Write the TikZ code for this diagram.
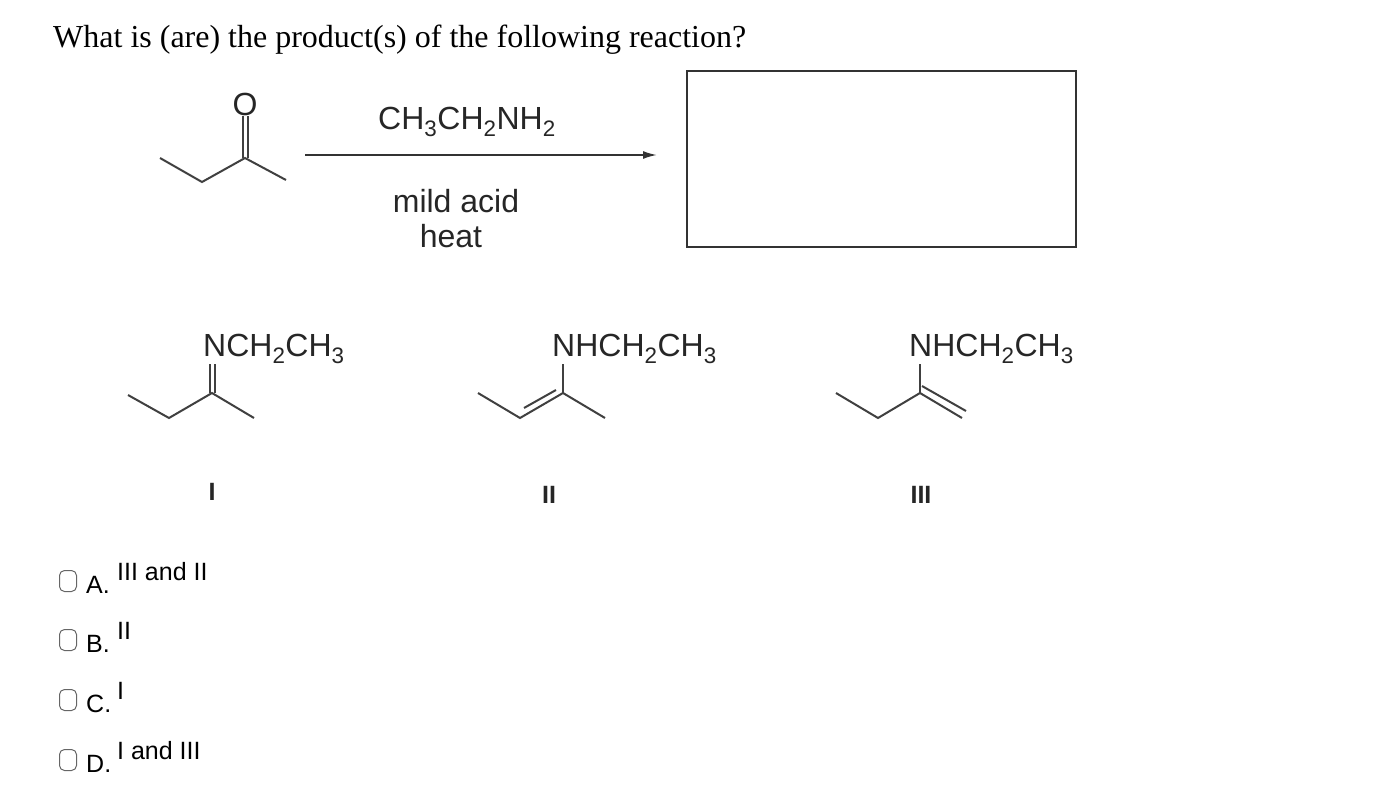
\documentclass[tikz,border=0pt]{standalone}
\usepackage{fontspec}
\usetikzlibrary{arrows.meta}
\setmainfont{Liberation Sans}
\newfontfamily\serifr{Liberation Serif}
\newcommand{\sbs}[1]{\textsubscript{#1}}
\begin{document}
\begin{tikzpicture}[x=1pt,y=-1pt,
  bond/.style={line width=2pt,black!75},
  lbl/.style={font=\fontsize{32}{34}\selectfont,inner sep=0pt,text=black!85},
  rom/.style={font=\bfseries\fontsize{25}{28}\selectfont,inner sep=0pt,text=black!85},
  opt/.style={font=\fontsize{25}{28}\selectfont,inner sep=0pt,anchor=west},
  cb/.style={draw=black!60,line width=1pt,rounded corners=5pt,minimum width=17pt,minimum height=21pt,inner sep=0pt}]
\useasboundingbox (0,0) rectangle (1374,800);
\node[font=\serifr\fontsize{32}{34}\selectfont,anchor=west,inner sep=0pt] (title) at (53,40) {What is (are) the product(s) of the following reaction?};
% ketone
\coordinate (k1) at (160,158); \coordinate (k2) at (202,182); \coordinate (k3) at (245,158); \coordinate (k4) at (286,180);
\node[lbl] (O) at (245,104) {O};
\draw[bond] (k1)--(k2)--(k3)--(k4);
\draw[bond] ([xshift=-2.5pt]k3)--([xshift=-2.5pt]O.south);
\draw[bond] ([xshift=2.5pt]k3)--([xshift=2.5pt]O.south);
% arrow
\coordinate (a1) at (305,155); \coordinate (a2) at (657,155);
\draw[line width=1.8pt,black!80,-{Latex[length=14pt,width=8pt]}] (a1)--(a2);
\node[lbl] (reag) at (467,122) {CH\sbs{3}CH\sbs{2}NH\sbs{2}};
\node[lbl] (cond1) at (456,201) {mild acid};
\node[lbl] (cond2) at (451,236) {heat};
\node[draw=black!80,line width=2pt,minimum width=389pt,minimum height=176pt,anchor=north west] (box) at (686,70) {};
% product I
\coordinate (i1) at (128,395); \coordinate (i2) at (169,418); \coordinate (i3) at (212,393); \coordinate (i4) at (254,418);
\node[lbl,anchor=west] (iN) at (203,349) {NCH\sbs{2}CH\sbs{3}};
\draw[bond] (i1)--(i2)--(i3)--(i4);
\draw[bond] ([xshift=-2.5pt]i3)--(209.5,364);
\draw[bond] ([xshift=2.5pt]i3)--(214.5,364);
\node[rom] (rI) at (212,492) {I};
% product II
\coordinate (j1) at (478,393); \coordinate (j2) at (520,418); \coordinate (j3) at (563,393); \coordinate (j4) at (605,418);
\node[lbl,anchor=west] (jN) at (552,349) {NHCH\sbs{2}CH\sbs{3}};
\draw[bond] (j1)--(j2)--(j3)--(j4);
\draw[bond] (524,408)--(556,390);
\draw[bond] (j3)--(563,364);
\node[rom] (rII) at (549,495) {II};
% product III
\coordinate (m1) at (836,393); \coordinate (m2) at (878,418); \coordinate (m3) at (920,393); \coordinate (m4) at (962,418);
\node[lbl,anchor=west] (mN) at (909,349) {NHCH\sbs{2}CH\sbs{3}};
\draw[bond] (m1)--(m2)--(m3)--(m4);
\draw[bond] (922,386)--(966,411);
\draw[bond] (m3)--(920,364);
\node[rom] (rIII) at (921,495) {III};
% options
\foreach \n/\y/\L/\t in {A/581/A./III and II, B/640/B./II, C/700/C./I, D/760/D./I and III}{
  \node[cb] (cb\n) at (68,\y) {};
  \node[opt] (l\n) at (86,\y+4) {\L};
  \node[opt,anchor=south west] (t\n) at (117,\y) {\t};
}
\end{tikzpicture}
\end{document}
